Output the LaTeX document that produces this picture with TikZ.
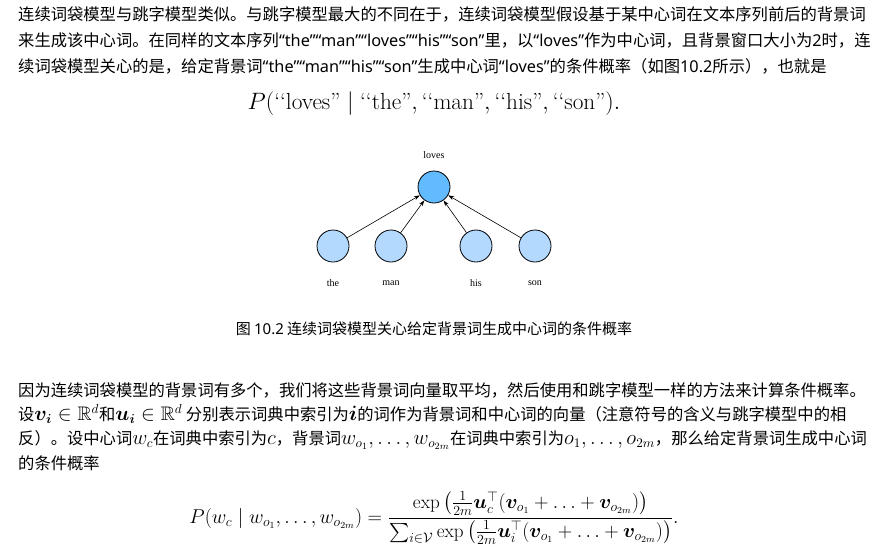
\documentclass[tikz,border=0pt]{standalone}
\usepackage{amsmath,amssymb,bm}
\usepackage{fontspec}
\newfontfamily\cjk{Noto Sans CJK SC}
\newfontfamily\lat{Noto Sans}
\newfontfamily\serifw{Liberation Serif}
\newcommand{\q}[1]{{\lat “#1”}}
\newcommand{\mm}[1]{\scalebox{1.2}{$#1$}}
\usetikzlibrary{arrows.meta}
\tikzset{
  txt/.style={anchor=west,inner sep=0pt,font=\cjk\fontsize{16.3}{19}\selectfont},
  top/.style={circle,draw=black,line width=0.8pt,fill=topblue,minimum size=32pt,inner sep=0pt},
  ctx/.style={circle,draw=black,line width=0.8pt,fill=ctxblue,minimum size=32pt,inner sep=0pt},
  wlab/.style={inner sep=0pt,font=\serifw\fontsize{10}{12}\selectfont},
  arr/.style={-{Stealth[length=6pt,width=4pt]},line width=0.6pt}
}
\definecolor{topblue}{HTML}{63BBFF}
\definecolor{ctxblue}{HTML}{B3D9FF}
\begin{document}
\begin{tikzpicture}[x=1pt,y=-1pt]
\useasboundingbox[fill=white] (0,0) rectangle (883,558);
\node[txt] (l1) at (18,14) {连续词袋模型与跳字模型类似。与跳字模型最大的不同在于，连续词袋模型假设基于某中心词在文本序列前后的背景词};
\node[txt] (l2) at (18,40) {来生成该中心词。在同样的文本序列\q{the}\q{man}\q{loves}\q{his}\q{son}里，以\q{loves}作为中心词，且背景窗口大小为{\lat 2}时，连};
\node[txt] (l3) at (18,66) {续词袋模型关心的是，给定背景词\q{the}\q{man}\q{his}\q{son}生成中心词\q{loves}的条件概率（如图{\lat 10.2}所示），也就是};
\node[inner sep=0pt,font=\normalfont\fontsize{17}{20}\selectfont] (f1) at (434,104) {\scalebox{1.37}{$P(\text{`{}`loves”}\mid\text{`{}`the”},\text{`{}`man”},\text{`{}`his”},\text{`{}`son”}).$}};
\node[top] (c) at (434,187) {};
\node[wlab] (cl) at (434,155) {loves};
\foreach \n/\x/\w in {a/333/the,b/391/man,d/476/his,e/535/son}{
  \node[ctx] (\n) at (\x,246) {};
  \node[wlab] (\n l) at (\x,283) {\w};
  \draw[arr] (\n) -- (c);
}
\node[inner sep=0pt,font=\cjk\fontsize{15}{17}\selectfont] (cap) at (434,329) {图 {\lat 10.2} 连续词袋模型关心给定背景词生成中心词的条件概率};
\node[txt] (p1) at (18,390) {因为连续词袋模型的背景词有多个，我们将这些背景词向量取平均，然后使用和跳字模型一样的方法来计算条件概率。};
\node[txt] (p2) at (18,414) {设\mm{\bm v_{\bm i}\in\mathbb R^d}和\mm{\bm u_{\bm i}\in\mathbb R^d} 分别表示词典中索引为\mm{\bm i}的词作为背景词和中心词的向量（注意符号的含义与跳字模型中的相};
\node[txt] (p3) at (18,440) {反）。设中心词\mm{w_c}在词典中索引为\mm{c}，背景词\mm{w_{o_1},\ldots,w_{o_{2m}}}在词典中索引为\mm{o_1,\ldots,o_{2m}}，那么给定背景词生成中心词};
\node[txt] (p4) at (18,463) {的条件概率};
\node[inner sep=0pt,font=\normalfont\fontsize{16.5}{20}\selectfont] (f2) at (434,518) {\scalebox{1.16}{$\displaystyle P(w_c\mid w_{o_1},\ldots,w_{o_{2m}})=\frac{\exp\left(\frac{1}{2m}\bm u_c^\top(\bm v_{o_1}+\ldots+\bm v_{o_{2m}})\right)}{\sum_{i\in\mathcal V}\exp\left(\frac{1}{2m}\bm u_i^\top(\bm v_{o_1}+\ldots+\bm v_{o_{2m}})\right)}.$}};
\end{tikzpicture}
\end{document}
